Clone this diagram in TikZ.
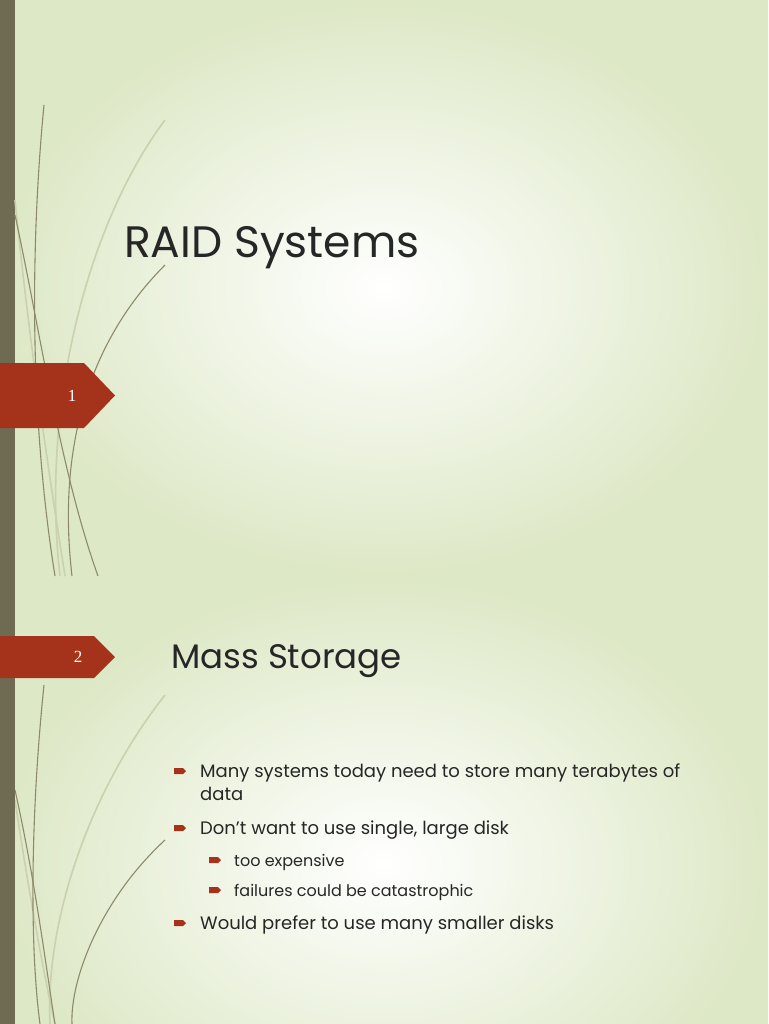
\documentclass[tikz,border=0pt]{standalone}
\usepackage{fontspec}
\setmainfont{Poppins}
\newfontfamily\numfont{Liberation Serif}
\usetikzlibrary{shadings}
\definecolor{bar}{HTML}{6F6B53}
\definecolor{tab}{HTML}{A5321A}
\definecolor{bgg}{HTML}{DDE8C6}
\definecolor{line1}{HTML}{8C8A6A}
\definecolor{line2}{HTML}{C9D1AE}
\definecolor{txt}{HTML}{262626}
\tikzset{
 swirl/.style={line width=1.1pt,draw=line1},
 swirlb/.style={line width=1.6pt,draw=line2},
 tabshape/.style={fill=tab},
 bul/.style={anchor=base west,font=\fontsize{18}{22}\selectfont,text=txt,inner sep=0pt},
 sub/.style={anchor=base west,font=\fontsize{16}{19}\selectfont,text=txt,inner sep=0pt},
 tabnum/.style={text=white,font=\numfont\fontsize{17}{17}\selectfont}
}
\newcommand{\arrowmark}[2]{\fill[tab] (#1-6,-#2+3) -- (#1+3,-#2+3) -- (#1+6,-#2) -- (#1+3,-#2-3) -- (#1-6,-#2-3) -- cycle;}
\begin{document}
\begin{tikzpicture}[x=1pt,y=1pt]
\useasboundingbox (0,0) rectangle (768,-1024);
\shade[inner color=white,outer color=bgg] (0,0) rectangle (768,-576);
\begin{scope}
\clip (0,-576) rectangle (768,-1024);
\shade[inner color=white,outer color=bgg] (0,-576) rectangle (768,-1152);
\end{scope}
\fill[bar] (0,0) rectangle (15,-1024);
\draw[swirlb] (15,-200) .. controls (30,-350) and (50,-480) .. (65,-576);
\draw[swirlb] (165,-120) .. controls (90,-220) and (40,-400) .. (60,-576);
\draw[swirl] (44,-105) .. controls (30,-250) and (30,-420) .. (55,-576);
\draw[swirl] (15,-215) .. controls (40,-330) and (60,-470) .. (98,-576);
\draw[swirl] (165,-265) .. controls (100,-330) and (55,-430) .. (72,-576);
\begin{scope}
\clip (15,-576) rectangle (768,-1024);
\draw[swirlb] (15,-800) .. controls (30,-900) and (45,-980) .. (55,-1024);
\draw[swirlb] (165,-695) .. controls (90,-790) and (45,-920) .. (50,-1024);
\draw[swirl] (44,-685) .. controls (30,-820) and (30,-950) .. (40,-1024);
\draw[swirl] (15,-790) .. controls (35,-880) and (45,-960) .. (55,-1024);
\draw[swirl] (165,-840) .. controls (100,-900) and (70,-980) .. (72,-1024);
\end{scope}
\fill[tabshape] (0,-363) -- (84,-363) -- (115,-395.5) -- (84,-428) -- (0,-428) -- cycle;
\node[tabnum] (n1) at (72,-396) {1};
\fill[tabshape] (0,-636) -- (94,-636) -- (115,-657) -- (94,-678) -- (0,-678) -- cycle;
\node[tabnum] (n2) at (78,-657) {2};
\node[anchor=base west,inner sep=0pt,text=txt,font=\fontsize{44}{50}\selectfont] (t1) at (124,-258) {RAID Systems};
\node[anchor=base west,inner sep=0pt,text=txt,font=\fontsize{34}{40}\selectfont] (t2) at (171,-668) {Mass Storage};
\arrowmark{180}{771}
\node[bul] (b1) at (200,-777) {Many systems today need to store many terabytes of};
\node[bul] (b1b) at (200,-800) {data};
\arrowmark{180}{828}
\node[bul] (b2) at (200,-834) {Don’t want to use single, large disk};
\arrowmark{215}{860}
\node[sub] (s1) at (234,-866) {too expensive};
\arrowmark{215}{890}
\node[sub] (s2) at (234,-896) {failures could be catastrophic};
\arrowmark{180}{923}
\node[bul] (b3) at (200,-929) {Would prefer to use many smaller disks};
\end{tikzpicture}
\end{document}
